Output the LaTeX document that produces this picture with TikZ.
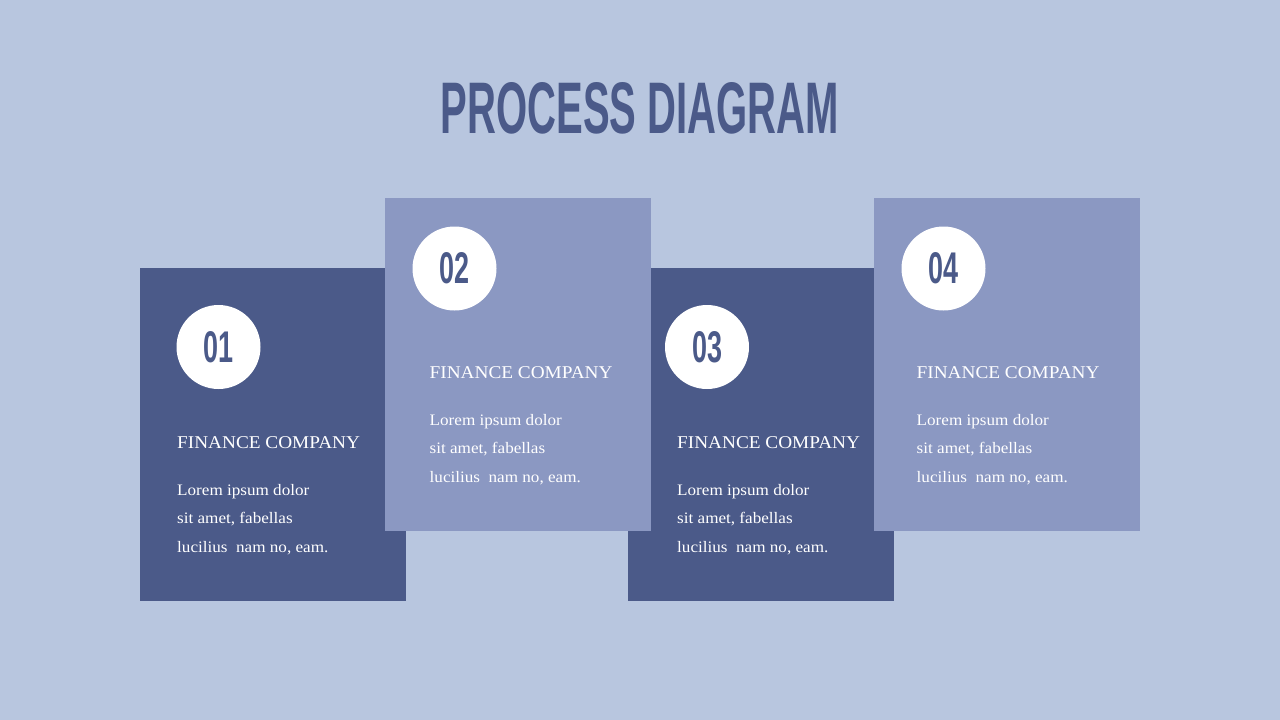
\documentclass[tikz,border=0pt]{standalone}
\usepackage{fontspec}
\setmainfont{Liberation Serif}
\newfontfamily\cardfont{Liberation Serif}[FakeStretch=1.07]
\newfontfamily\bignumfont{Liberation Sans}
\definecolor{pagebg}{HTML}{B8C6DF}
\definecolor{darkblue}{HTML}{4B5A89}
\definecolor{lightblue}{HTML}{8B98C2}
\tikzset{
	card/.style={anchor=north west, inner sep=0, minimum width=266, minimum height=332.5},
	badge/.style={circle, fill=white, inner sep=0, minimum size=84},
	heading/.style={anchor=base west, inner sep=0, text=white, font=\cardfont\fontsize{18}{18}\selectfont},
	bodytext/.style={anchor=base west, inner sep=0, text=white,
		font=\cardfont\fontsize{16}{28.7}\selectfont},
}
\begin{document}
\begin{tikzpicture}[x=1pt, y=-1pt]
			\useasboundingbox (0,0) rectangle (1280,720);
			\fill[pagebg] (0,0) rectangle (1280,720);
			% title, squeezed to look condensed
			\node[inner sep=0, text=darkblue] (title) at (640,108.5)
				{\resizebox{398pt}{51pt}{\bignumfont\bfseries PROCESS DIAGRAM}};
			% dark cards first, light cards lie on top of them
			\foreach \n/\bx/\by/\col/\cx/\cy/\tx/\ty in {
					1/140/268/darkblue/218.5/347/177/448,
					3/628/268/darkblue/707/347/677/448,
					2/385/198/lightblue/454.5/268.5/429.5/378,
					4/874/198/lightblue/943.5/268.5/916.5/378}
			{
				\node[card, fill=\col] (card\n) at (\bx,\by) {};
				\node[badge] (num\n) at (\cx,\cy)
					{\resizebox{30pt}{31pt}{\bignumfont\bfseries\color{darkblue}0\n}};
				\node[heading] (head\n) at (\tx,\ty) {FINANCE COMPANY};
				\node[bodytext] (body\n) at (\tx,\ty+47)
					{\vtop{\hbox{Lorem ipsum dolor}\hbox{sit amet, fabellas}\hbox{lucilius~ nam no, eam.}}};
			}
		\end{tikzpicture}
\end{document}
